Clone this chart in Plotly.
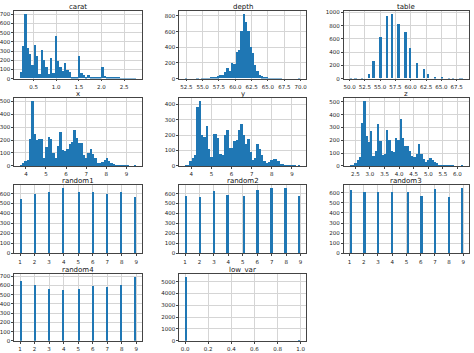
import numpy as np
import plotly.graph_objects as go

W, H = 474, 353

# ---------------- data (50-bin histograms) ----------------
carat_range = (0.2, 2.77)
carat_counts = [70, 350, 700, 330, 270, 150, 360, 250, 50, 310,
                200, 120, 50, 220, 60, 460, 190, 130, 80, 170,
                90, 70, 20, 20, 15, 250, 60, 40, 10, 40,
                10, 10, 5, 5, 5, 120, 30, 10, 10, 10,
                8, 5, 5, 4, 3, 3, 2, 1, 1, 1]

depth_range = (52.3, 70.0)
depth_counts = [1, 0, 0, 0, 0, 1, 0, 2, 3, 3,
                5, 8, 10, 20, 25, 50, 40, 80, 130, 100,
                200, 180, 340, 360, 610, 820, 720, 610, 400, 320,
                170, 90, 40, 25, 12, 8, 5, 4, 2, 2,
                1, 1, 0, 0, 0, 0, 0, 0, 0, 1]

table_values = [50, 51, 52, 53, 54, 55, 56, 57, 58, 59, 60, 61, 62, 63, 64, 65, 66, 67, 68, 68.6]
table_counts = [2, 3, 5, 60, 260, 630, 950, 970, 820, 700, 460, 230, 140, 60, 25, 10, 5, 5, 3, 1]

x_range = (3.71, 9.49)
x_counts = [5, 20, 40, 45, 205, 500, 245, 200, 210, 210,
            60, 145, 225, 210, 100, 60, 155, 265, 125, 115,
            135, 170, 185, 280, 215, 175, 180, 85, 60, 100,
            130, 90, 60, 20, 20, 30, 45, 60, 35, 20,
            15, 10, 5, 3, 2, 1, 1, 0, 0, 1]

y_range = (3.69, 9.43)
y_counts = [3, 5, 30, 55, 70, 380, 420, 200, 190, 260,
            110, 60, 210, 210, 180, 80, 70, 200, 235, 120,
            115, 165, 170, 235, 275, 200, 145, 175, 90, 40,
            55, 140, 110, 70, 30, 20, 25, 40, 45, 45,
            30, 15, 10, 5, 3, 2, 1, 1, 0, 1]

z_range = (2.3, 6.2)
z_counts = [2, 5, 25, 45, 70, 335, 505, 235, 190, 275,
            80, 120, 325, 195, 85, 90, 280, 200, 115, 110,
            215, 205, 370, 220, 160, 160, 120, 80, 70, 90,
            170, 90, 55, 30, 45, 65, 45, 35, 20, 10,
            8, 5, 3, 2, 1, 1, 0, 0, 0, 1]

random_values = [1, 2, 3, 4, 5, 6, 7, 8, 9]
random1_counts = [545, 595, 615, 650, 610, 615, 590, 615, 560]
random2_counts = [570, 565, 620, 580, 575, 635, 650, 650, 570]
random3_counts = [625, 600, 600, 605, 605, 560, 630, 555, 640]
random4_counts = [650, 605, 565, 550, 560, 595, 580, 605, 690]

lowvar_values = [0, 1]
lowvar_counts = [5392, 8]

# ---------------- helpers ----------------
BAR = "#1f77b4"
NB = 50


def binned(counts, rng):
    edges = np.linspace(rng[0], rng[1], NB + 1)
    return edges, np.asarray(counts, dtype=float)


def from_values(values, counts):
    v = np.asarray(values, dtype=float)
    c, edges = np.histogram(v, bins=NB, range=(v.min(), v.max()), weights=counts)
    return edges, c


panels = [
    ("carat", binned(carat_counts, carat_range), [0.5, 1.0, 1.5, 2.0, 2.5], ".1f", 100),
    ("depth", binned(depth_counts, depth_range), [52.5, 55, 57.5, 60, 62.5, 65, 67.5, 70], ".1f", 200),
    ("table", from_values(table_values, table_counts), [50, 52.5, 55, 57.5, 60, 62.5, 65, 67.5], ".1f", 200),
    ("x", binned(x_counts, x_range), [4, 5, 6, 7, 8, 9], "d", 100),
    ("y", binned(y_counts, y_range), [4, 5, 6, 7, 8, 9], "d", 100),
    ("z", binned(z_counts, z_range), [2.5, 3, 3.5, 4, 4.5, 5, 5.5, 6], ".1f", 100),
    ("random1", from_values(random_values, random1_counts), random_values, "d", 100),
    ("random2", from_values(random_values, random2_counts), random_values, "d", 100),
    ("random3", from_values(random_values, random3_counts), random_values, "d", 100),
    ("random4", from_values(random_values, random4_counts), random_values, "d", 100),
    ("low_var", from_values(lowvar_values, lowvar_counts), [0, 0.2, 0.4, 0.6, 0.8, 1.0], ".1f", 1000),
]

cols = [(13.3, 141.7), (179.0, 306.7), (344.3, 470.0)]
rows = [(9.3, 77.7), (97.3, 166.3), (186.0, 255.0), (275.7, 343.7)]

fig = go.Figure()
annotations = []
FONT = "DejaVu Sans, Liberation Sans, sans-serif"

for i, (name, (edges, counts), xt, fmt, dy) in enumerate(panels):
    r, c = divmod(i, 3)
    x0, x1 = cols[c]
    y0, y1 = rows[r]
    n = i + 1
    xa = "x" if n == 1 else f"x{n}"
    ya = "y" if n == 1 else f"y{n}"
    centers = (edges[:-1] + edges[1:]) / 2
    width = edges[1] - edges[0]
    fig.add_trace(go.Bar(x=centers, y=counts, width=width, marker=dict(color=BAR, line=dict(width=0)),
                         xaxis=xa, yaxis=ya, showlegend=False))
    lo, hi = edges[0], edges[-1]
    pad = 0.05 * (hi - lo)
    ymax = 1.05 * counts.max()
    if fmt == "d":
        ttext = [str(int(v)) for v in xt]
    else:
        ttext = [f"{v:.1f}" for v in xt]
    axis_common = dict(showline=True, mirror=True, linecolor="#444", linewidth=0.8,
                       showgrid=True, gridcolor="#d5d5d5", gridwidth=0.6,
                       ticks="outside", ticklen=2, tickwidth=0.6, tickcolor="#444",
                       tickfont=dict(size=5.5, color="#222", family=FONT), zeroline=False,
                       tickangle=0)
    fig.layout[("xaxis" if n == 1 else f"xaxis{n}")] = dict(
        domain=[x0 / W, x1 / W], anchor=ya, range=[lo - pad, hi + pad],
        tickmode="array", tickvals=xt, ticktext=ttext, ticklabelstandoff=1, **axis_common)
    fig.layout[("yaxis" if n == 1 else f"yaxis{n}")] = dict(
        domain=[1 - y1 / H, 1 - y0 / H], anchor=xa, range=[0, ymax],
        tickmode="linear", tick0=0, dtick=dy, **axis_common)
    annotations.append(dict(text=name, x=(x0 + x1) / 2 / W, y=1 - y0 / H, xref="paper", yref="paper",
                            xanchor="center", yanchor="bottom", yshift=-1, showarrow=False,
                            borderpad=0,
                            font=dict(size=7, color="#111", family=FONT)))

fig.update_layout(width=W, height=H, margin=dict(l=0, r=0, t=0, b=0),
                  paper_bgcolor="white", plot_bgcolor="white", bargap=0,
                  annotations=annotations, font=dict(family=FONT))

fig.write_html("out.html")
